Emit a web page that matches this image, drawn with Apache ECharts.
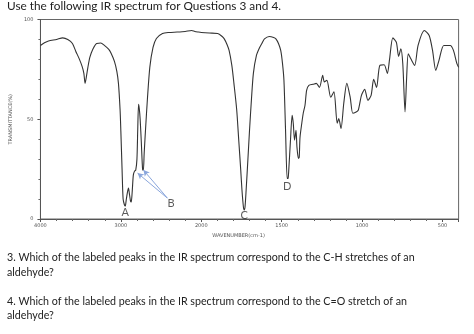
<!DOCTYPE html>
<html><head><meta charset="utf-8">
<script src="https://cdn.jsdelivr.net/npm/echarts@6/dist/echarts.min.js"></script>
<style>html,body{margin:0;padding:0;background:#fff}#c{width:474px;height:334px}</style>
</head><body><div id="c"></div>
<script>
// ---- data ----
const wavenumbers = [4000,3950,3900,3800,3723,3660,3602,3560,3520,3482,3460,3445,3430,3410,3386,3350,3301,3250,3205,3150,3120,3080,3050,3030,3010,3000,2985,2972,2955,2945,2935,2920,2905,2895,2880,2871,2860,2845,2830,2815,2800,2790,2780,2770,2760,2745,2730,2720,2710,2690,2670,2640,2600,2558,2482,2400,2300,2200,2120,2080,2036,2000,1950,1898,1870,1857,1840,1827,1810,1797,1780,1767,1755,1747,1738,1733,1728,1721,1710,1700,1688,1676,1657,1637,1620,1607,1577,1550,1536,1520,1506,1495,1486,1476,1466,1460,1456,1445,1435,1428,1420,1411,1405,1396,1391,1386,1375,1366,1355,1345,1331,1305,1285,1265,1245,1235,1219,1195,1175,1155,1145,1131,1114,1095,1074,1058,1040,1024,1004,984,964,944,928,910,890,863,843,829,809,787,773,759,747,733,723,713,697,673,652,613,583,562,542,522,492,452,432,411,400];
const transmittance = [87,88.3,89.2,90,90.8,90,88,84,80.5,76.5,73,68,71,76,81,85,88,88.2,87,85,83,79,74,68,55,44,25,10,7,6.5,9,13,15.5,13,9,8.5,13,22,24,24.5,30,45,57.5,55,50,38,25,24.5,33,47,60,76,86,90.5,93,93.5,93.7,94,94.5,94,93.7,93.5,93.2,93,91.5,90.3,87.5,84.5,77,68,55,39.5,25,14.5,6,4.5,6,14.5,30,44.5,60,73,82,86,88.5,90.3,91.5,91,90.3,88,84.5,78,69.5,44.5,20.3,20.5,24.5,40,52,48,39.5,44.5,36,30.3,31,41,48,53,57,64.5,67,67.5,68,66,72,68.7,69.5,61,63.7,48,50.3,45.3,58,68,61,53,53.5,54.5,62,65,59.5,62,70,66,77,77.3,73,80.3,90.8,88.6,81.5,85.3,77.8,53.7,71,82.8,80.3,77,87,94.5,92,84.5,74.5,79.5,87,87,84.5,78,76];
const xTickLabels = ['4000','3000','2000','1500','1000','500'];
const yTickLabels = ['0','50','100'];
const peakNames = ['A','B','C','D'];
const peakWn = [2945,2377,1733,1466];
const peakT = [3.3,7.8,1.8,16.5];
const arrowStartWn = [2422,2422];
const arrowStartT = [10.5,10.5];
const arrowEndWn = [2792,2719];
const arrowEndT = [23,24.5];
const titleText = 'Use the following IR spectrum for Questions 3 and 4.';
const questionLines = [
  '3. Which of the labeled peaks in the IR spectrum correspond to the C-H stretches of an',
  'aldehyde?',
  '4. Which of the labeled peaks in the IR spectrum correspond to the C=O stretch of an',
  'aldehyde?'
];

// piecewise IR axis: 4000-2000 at 1000/unit, below 2000 at 500/unit
function pos(wn){ return wn >= 2000 ? (4000 - wn)/1000 : 2 + (2000 - wn)/500; }

const lineData = wavenumbers.map((w,i)=>[pos(w), transmittance[i]]);
const labelData = peakNames.map((n,i)=>({value:[pos(peakWn[i]), peakT[i]], name:n}));
const arrows = arrowStartWn.map((w,i)=>[
  {coord:[pos(w), arrowStartT[i]]},
  {coord:[pos(arrowEndWn[i]), arrowEndT[i]]}
]);

const FONT = 'Lato, "Open Sans", sans-serif';
const chart = echarts.init(document.getElementById('c'), null, {renderer:'canvas'});
chart.setOption({
  animation:false,
  backgroundColor:'#fff',
  grid:{left:27, right:15.4, top:19.5, bottom:115, show:true, borderColor:'#666', borderWidth:1, backgroundColor:'transparent'},
  xAxis:{
    type:'value', min:0, max:5.2, interval:1,
    name:'WAVENUMBER(cm-1)', nameLocation:'middle', nameGap:12,
    nameTextStyle:{fontSize:5, color:'#555', fontFamily:'DejaVu Sans', padding:[0,22,0,0]},
    axisLine:{show:true, lineStyle:{color:'#555', width:1}},
    axisTick:{show:true, length:3, lineStyle:{color:'#555'}},
    minorTick:{show:true, splitNumber:5, length:2, lineStyle:{color:'#666'}},
    splitLine:{show:false},
    axisLabel:{fontSize:5, color:'#555', margin:4, fontFamily:'DejaVu Sans',
      formatter:function(v){ return Number.isInteger(v) ? (xTickLabels[v]||'') : ''; }}
  },
  yAxis:{
    type:'value', min:0, max:100, interval:50,
    name:'TRANSMITTANCE(%)', nameLocation:'middle', nameGap:18, nameRotate:90,
    nameTextStyle:{fontSize:5, color:'#555', fontFamily:'DejaVu Sans'},
    axisLine:{show:true, lineStyle:{color:'#555', width:1}},
    axisTick:{show:true, length:3, lineStyle:{color:'#555'}},
    minorTick:{show:true, splitNumber:5, length:2, lineStyle:{color:'#666'}},
    splitLine:{show:false},
    axisLabel:{fontSize:5, color:'#555', margin:7, fontFamily:'DejaVu Sans',
      formatter:function(v){ return yTickLabels[v/50]||''; }}
  },
  series:[
    {type:'line', data:lineData, showSymbol:false, smooth:0.25,
     lineStyle:{color:'#333', width:1.1}, z:3,
     markLine:{silent:true, symbol:['none','arrow'], symbolSize:[5,6],
       lineStyle:{color:'#8aa6dc', width:1, type:'solid'}, label:{show:false},
       itemStyle:{color:'#5d7fcf'}, data:arrows}},
    {type:'scatter', data:labelData, symbolSize:0, z:4,
     label:{show:true, position:'inside', formatter:'{b}', fontSize:11, color:'#333', fontFamily:FONT}}
  ],
  graphic:[
    {type:'text', left:7, top:0.5, style:{text:titleText, fontSize:11.8, fill:'#222', fontFamily:FONT}},
    {type:'text', left:7, top:252, style:{text:questionLines[0], fontSize:10.7, fill:'#222', fontFamily:FONT}},
    {type:'text', left:7, top:267, style:{text:questionLines[1], fontSize:10.7, fill:'#222', fontFamily:FONT}},
    {type:'text', left:7, top:296, style:{text:questionLines[2], fontSize:10.7, fill:'#222', fontFamily:FONT}},
    {type:'text', left:7, top:310, style:{text:questionLines[3], fontSize:10.7, fill:'#222', fontFamily:FONT}}
  ]
});
</script></body></html>
